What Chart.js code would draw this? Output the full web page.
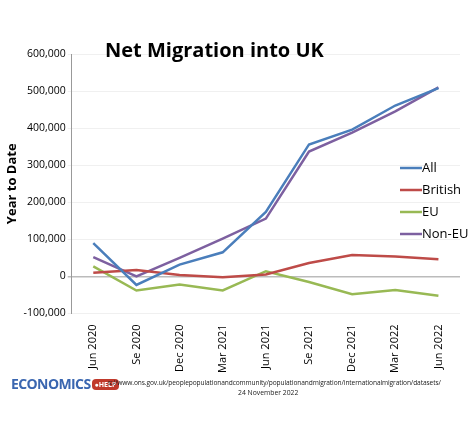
<!DOCTYPE html>
<html><head><meta charset="utf-8">
<script src="https://cdn.jsdelivr.net/npm/chart.js@4"></script>
<style>
body{margin:0;background:#fff;font-family:"Open Sans",Calibri,sans-serif;}
#wrap{position:absolute;left:0;top:0;width:474px;height:376px;}
#foot{position:absolute;left:0;top:372px;width:474px;height:30px;}
.logo{position:absolute;left:11px;top:2px;font:bold 14px "Open Sans";color:#3a66b0;letter-spacing:-0.6px}
.help{display:inline-block;background:#c0392b;color:#fff;font-size:7px;padding:1px 3px;border-radius:4px;vertical-align:2px;margin-left:1px;letter-spacing:0}
.url{position:absolute;left:108px;top:6px;font-size:6.6px;color:#222;white-space:nowrap;letter-spacing:-0.1px}
.date{position:absolute;left:238px;top:16px;font-size:6.8px;color:#222}
</style></head><body>
<div id="wrap"><canvas id="c"></canvas></div>
<div id="foot"><div class="logo">ECONOMICS<span class="help">●HELP</span></div>
<div class="url">s://www.ons.gov.uk/peoplepopulationandcommunity/populationandmigration/internationalmigration/datasets/</div>
<div class="date">24 November 2022</div></div>
<script>
const categories=["Jun 2020","Se 2020","Dec 2020","Mar 2021","Jun 2021","Se 2021","Dec 2021","Mar 2022","Jun 2022"];
const allValues=[90000,-23000,32000,65000,174000,356000,396000,461000,508000];
const britishValues=[10000,17000,4000,-2000,5000,36000,58000,54000,46000];
const euValues=[27000,-38000,-22000,-38000,14000,-15000,-48000,-37000,-52000];
const nonEuValues=[52000,0,50000,102000,156000,337000,388000,445000,510000];
const seriesNames=["All","British","EU","Non-EU"];
const colors=["#4a7ebb","#be4b48","#98b954","#7d60a0"];
const vals=[allValues,britishValues,euValues,nonEuValues];
const overlay={id:'ov',afterDraw(ch){const x=ch.ctx;x.save();
x.font='bold 20px "Open Sans"';x.fillStyle='#000';x.textBaseline='middle';x.fillText('Net Migration into UK',105,51);
x.font='13px "Open Sans"';
seriesNames.forEach((n,i)=>{const y=168+i*22;x.strokeStyle=colors[i];x.lineWidth=2.5;x.beginPath();x.moveTo(400,y);x.lineTo(422,y);x.stroke();x.fillStyle='#000';x.fillText(n,422,y);});
x.restore();}};
new Chart(document.getElementById('c'),{type:'line',
data:{labels:categories,datasets:vals.map((v,i)=>({label:seriesNames[i],data:v,borderColor:colors[i],backgroundColor:colors[i],borderWidth:2.5,pointRadius:0,tension:0}))},
options:{responsive:true,maintainAspectRatio:false,animation:false,
layout:{padding:{left:2,right:14,top:54}},
plugins:{legend:{display:false},tooltip:{enabled:false}},
scales:{x:{offset:true,grid:{display:false},border:{display:false},ticks:{color:'#000',font:{size:11,family:'"Open Sans"'},maxRotation:90,minRotation:90}},
y:{min:-100000,max:600000,ticks:{stepSize:100000,padding:2,color:'#000',font:{size:10.5,family:'"Open Sans"'},callback:v=>v.toLocaleString('en-US')},
grid:{color:c=>c.tick.value===0?'#bbb':'#f0f0f0',lineWidth:c=>c.tick.value===0?1.5:1,tickLength:4},border:{display:true,color:'#999'},
title:{display:true,padding:2,text:'Year to Date',color:'#000',font:{size:13,weight:'bold',family:'"Open Sans"'}}}}},
plugins:[overlay]});
</script></body></html>
